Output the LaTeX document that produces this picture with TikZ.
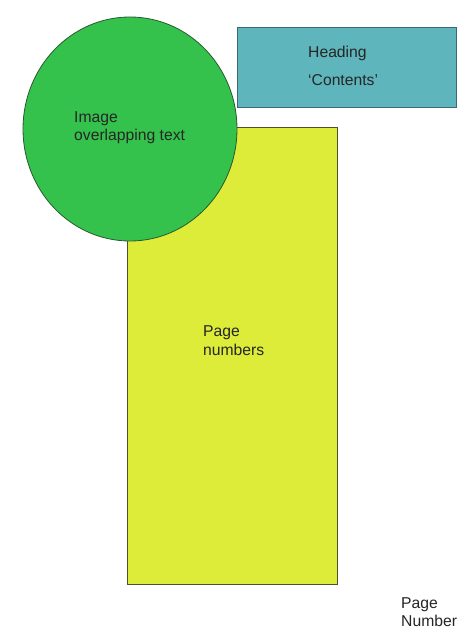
\documentclass[tikz,border=0pt]{standalone}
\usepackage{fontspec}
\setmainfont{Liberation Sans}
\begin{document}
\begin{tikzpicture}[x=1pt,y=-1pt,
  lbl/.style={anchor=base west,inner sep=0pt,font=\fontsize{15.7}{18}\selectfont,text=black!85},
  shapeline/.style={line width=0.8pt}]
\useasboundingbox (0,0) rectangle (474,632);
\fill[white] (0,0) rectangle (474,632);
\node[draw=black!55!olive,shapeline,fill={rgb,255:red,220;green,236;blue,56},minimum width=210pt,minimum height=457pt,inner sep=0pt,anchor=north west] (page) at (127,127) {};
\node[draw={rgb,255:red,60;green,105;blue,115},shapeline,fill={rgb,255:red,94;green,181;blue,188},minimum width=219pt,minimum height=80pt,inner sep=0pt,anchor=north west] (head) at (237,27) {};
\draw[draw={rgb,255:red,40;green,90;blue,50},shapeline,fill={rgb,255:red,52;green,194;blue,76}] (130,129) ellipse [x radius=107, y radius=112];
\coordinate (img) at (130,129);
\node[lbl] (t1) at (308,57) {Heading};
\node[lbl] (t2) at (308,85) {‘Contents’};
\node[lbl] (t3) at (74,122) {Image};
\node[lbl] (t4) at (74,140) {overlapping text};
\node[lbl] (t5) at (203,336) {Page};
\node[lbl] (t6) at (203,355) {numbers};
\node[lbl] (t7) at (401,608) {Page};
\node[lbl] (t8) at (401,626) {Number};
\end{tikzpicture}
\end{document}
